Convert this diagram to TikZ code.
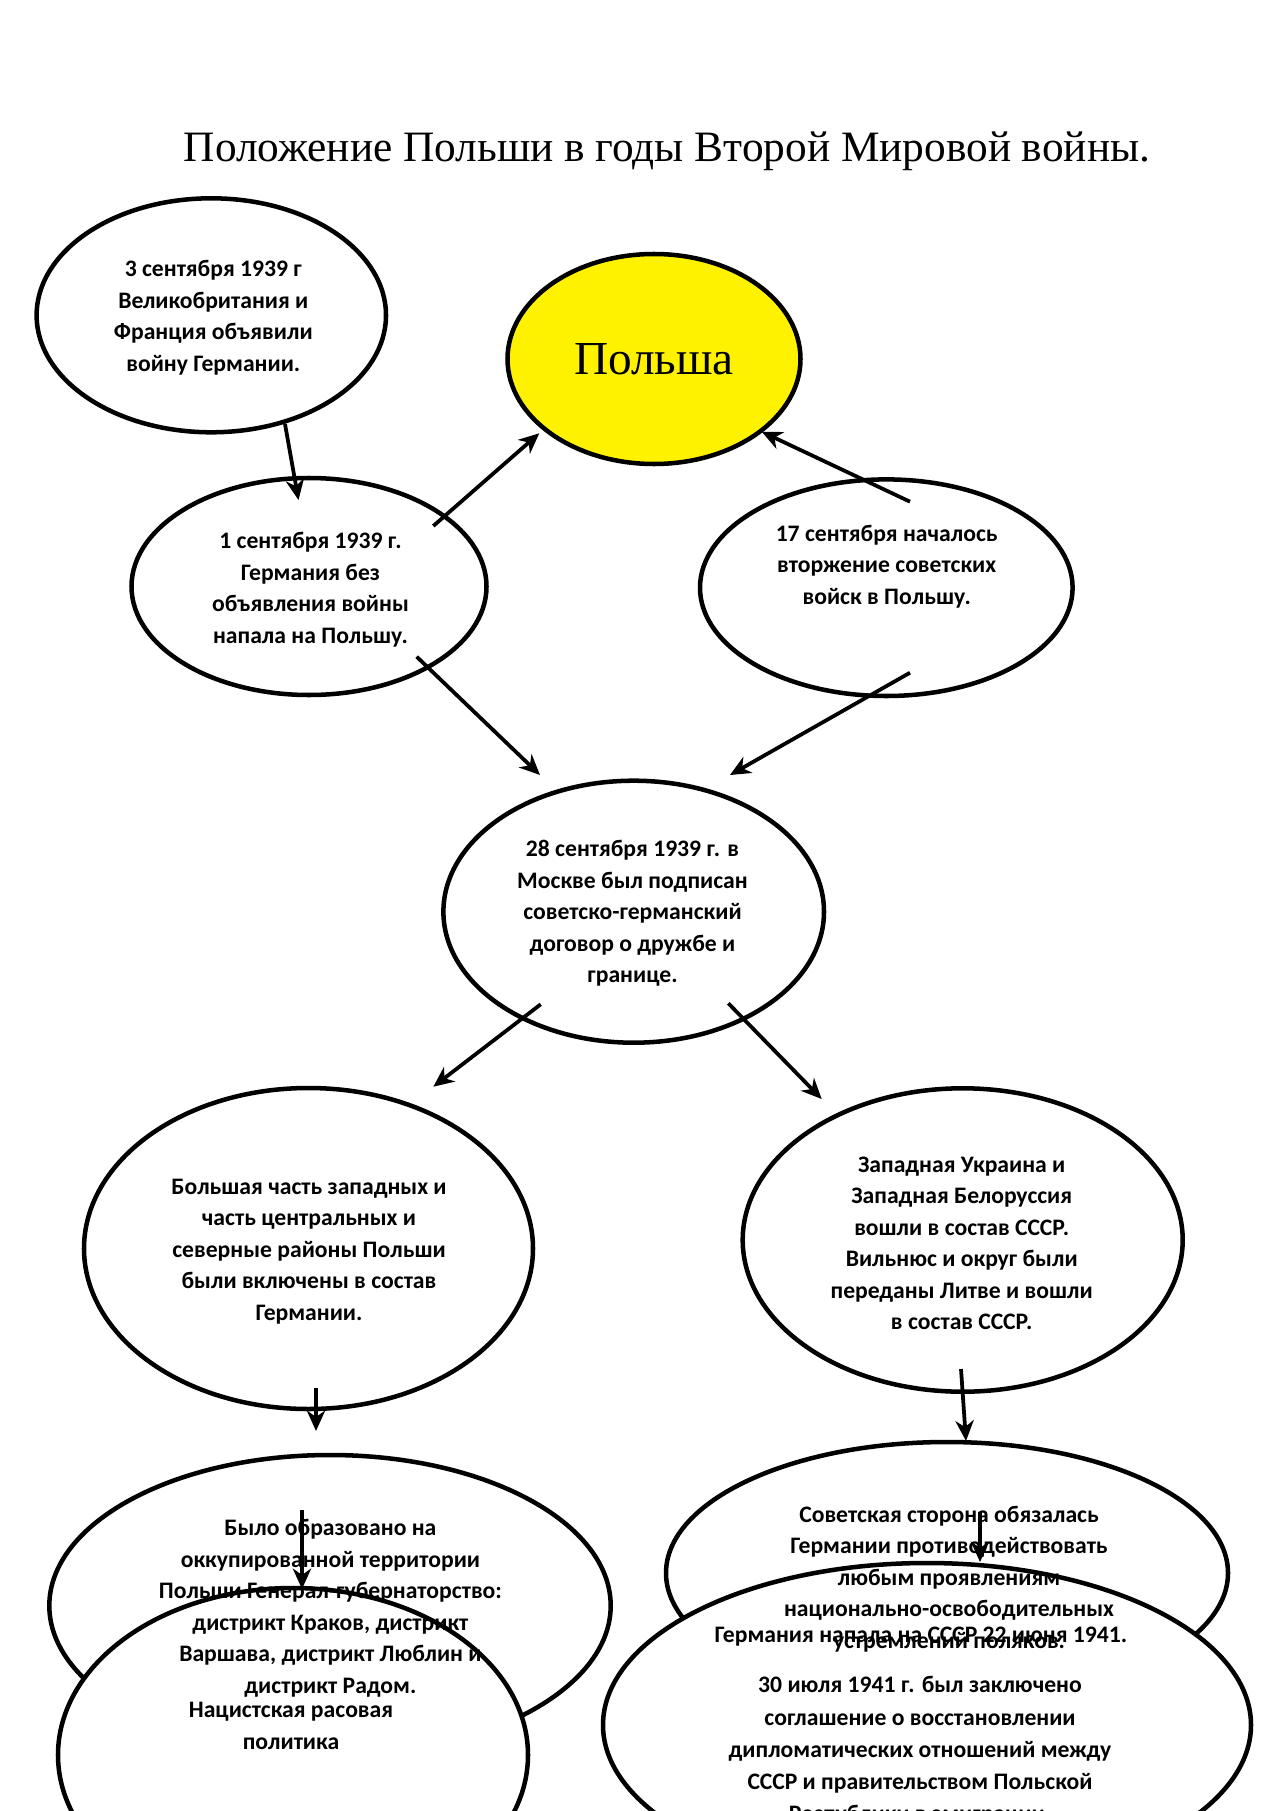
\documentclass[tikz,border=0pt]{standalone}
\usepackage{fontspec}
\setmainfont{Liberation Serif}
\newfontfamily\bodyf{Carlito}
\usetikzlibrary{shapes.geometric,arrows.meta,calc}
\begin{document}
\begin{tikzpicture}[x=0.46506pt,y=-0.46506pt,
  ov/.style 2 args={ellipse,draw,line width=2.1pt,inner sep=0pt,fill=white,
    minimum width={2*#1*0.46506pt},minimum height={2*#2*0.46506pt}},
  txt/.style={align=center,inner sep=0pt,font=\bodyf\bfseries\fontsize{11pt}{14.65pt}\selectfont},
  arr/.style={line width=1.75pt,-{Stealth[length=9.5pt,width=8.5pt,inset=3pt]}}]
\path[use as bounding box] (0,0) rectangle (1280,1811);
\clip (0,0) rectangle (1280,1811);

% title
\node[anchor=base,inner sep=0pt,font=\fontsize{20.15pt}{24pt}\selectfont] (title) at (667,161.7)
  {Положение Польши в годы Второй Мировой войны.};

% ellipses
\node[ov={174.7}{117}] (e1) at (211.3,315.3) {};
\node[ov={146.5}{105},fill=yellow,font=\fontsize{22pt}{26pt}\selectfont] (pol) at (654,359) {Польша};
\node[ov={177.5}{108.5}] (e3) at (309,586.5) {};
\node[ov={186.3}{108.3}] (e4) at (886.3,587.7) {};
\node[ov={190.3}{131}] (e5) at (633.7,911.7) {};
\node[ov={224.5}{160.5}] (e6) at (308.5,1248.5) {};
\node[ov={220}{151.7}] (e7) at (962.7,1240) {};
\node[ov={280.7}{150.7}] (e8) at (330,1605.7) {};
\node[ov={235}{167}] (e9) at (293,1755) {};
\node[ov={281}{131}] (e10) at (947,1573) {};
\node[ov={324}{162}] (e11) at (927,1725) {};

% texts
\node[txt] (t1) at (213.3,317.5) {3 сентября 1939 г\\Великобритания и\\Франция объявили\\войну Германии.};
\node[txt] (t3) at (310.5,589.5) {1 сентября 1939 г.\\Германия без\\объявления войны\\напала на Польшу.};
\node[txt] (t4) at (886.7,566.7) {17 сентября началось\\вторжение советских\\войск в Польшу.};
\node[txt] (t5) at (632.5,913.4) {28 сентября 1939 г. в\\Москве был подписан\\советско-германский\\договор о дружбе и\\границе.};
\node[txt] (t6) at (309,1251.3) {Большая часть западных и\\часть центральных и\\северные районы Польши\\были включены в состав\\Германии.};
\node[txt] (t7) at (961.7,1243.3) {Западная Украина и\\Западная Белоруссия\\вошли в состав СССР.\\Вильнюс и округ были\\переданы Литве и вошли\\в состав СССР.};
\node[txt] (t8) at (330.4,1608.2) {Было образовано на\\оккупированной территории\\Польши Генерал-губернаторство:\\дистрикт Краков, дистрикт\\Варшава, дистрикт Люблин и\\дистрикт Радом.};
\node[txt] (t9) at (291,1725.8) {Нацистская расовая\\политика};
\node[txt] (t10) at (949,1578.7) {Советская сторона обязалась\\Германии противодействовать\\любым проявлениям\\национально-освободительных\\устремлений поляков.};
\node[txt] (t11a) at (921,1636.7) {Германия напала на СССР 22 июня 1941.};
\node[txt,font=\bodyf\bfseries\fontsize{11pt}{15pt}\selectfont] (t11b) at (920,1751) {30 июля 1941 г. был заключено\\соглашение о восстановлении\\дипломатических отношений между\\СССР и правительством Польской\\Республики в эмиграции.};

% connectors
\draw[arr] ($(e1.center)+(73.7,108.7)$) -- ($(e3.center)+(-10.5,-86.5)$);
\draw[arr] ($(e3.center)+(124.3,-60.5)$) -- ($(pol.center)+(-114.7,74.3)$);
\draw[arr] ($(e4.center)+(23.7,-86)$) -- ($(pol.center)+(107.7,72.7)$);
\draw[arr] ($(e3.center)+(107.7,70.2)$) -- ($(e5.center)+(-93.7,-136.7)$);
\draw[arr] ($(e4.center)+(23.7,85)$) -- ($(e5.center)+(96.3,-136.7)$);
\draw[arr] ($(e5.center)+(-93,92.6)$) -- ($(e6.center)+(124.8,-161.8)$);
\draw[arr] ($(e5.center)+(94.6,91.6)$) -- ($(e7.center)+(-141,-141)$);
\draw[arr] ($(e6.center)+(7.5,139.5)$) -- ($(e8.center)+(-14,-174.7)$);
\draw[arr] ($(e7.center)+(-1.7,129)$) -- ($(e10.center)+(19,-132)$);
\draw[arr] ($(e8.center)+(-28,-95.7)$) -- ($(e9.center)+(9,-166)$);
\draw[arr] ($(e10.center)+(33,-61)$) -- ($(e11.center)+(53,-163)$);
\end{tikzpicture}
\end{document}
